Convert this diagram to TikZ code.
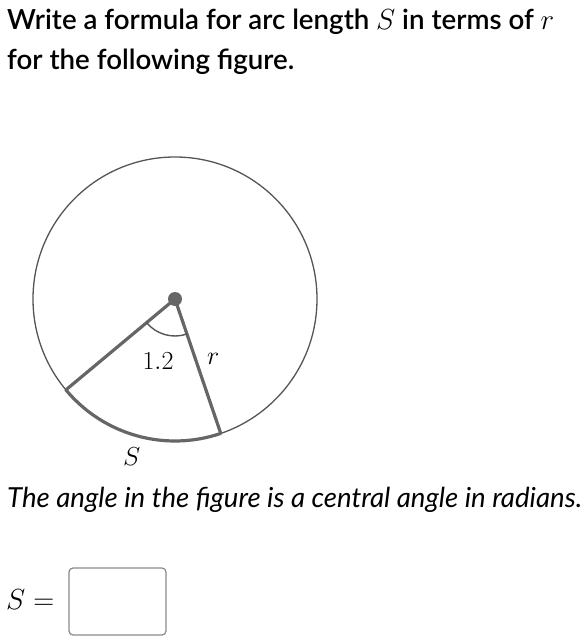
\RequirePackage{fix-cm}
\documentclass[tikz,border=0pt]{standalone}
\usepackage{fontspec}
\setmainfont{Lato}
\newfontfamily\latosemi{Lato Semibold}
\usetikzlibrary{calc}
\definecolor{circcol}{HTML}{555555}
\definecolor{radcol}{HTML}{666666}
\definecolor{boxcol}{HTML}{8A8A8A}
\tikzset{
  circline/.style={draw=circcol, line width=1.3pt},
  radline/.style={draw=radcol, line width=3.2pt},
  angline/.style={draw=circcol, line width=1.4pt},
  titletext/.style={anchor=base west, inner sep=0pt, font=\fontsize{27.7}{32}\selectfont\latosemi},
  itext/.style={anchor=base west, inner sep=0pt, font=\fontsize{27.6}{32}\selectfont\itshape},
  mlabel/.style={inner sep=0pt, font=\fontsize{26}{30}\selectfont},
  ansbox/.style={draw=boxcol, line width=1.2pt, rounded corners=4pt}
}
\newcommand{\titlemath}[1]{{\fontsize{29}{32}\selectfont$#1$}}
\begin{document}
\begin{tikzpicture}[x=1pt,y=1pt]
\useasboundingbox (0,0) rectangle (588,641);
% title
\node[titletext] (t1) at (7,611) {Write a formula for arc length \titlemath{S} in terms of \titlemath{r}};
\node[titletext] (t2) at (7,571) {for the following figure.};
% figure
\coordinate (O) at (175,342);
\draw[circline] (O) circle[radius=142];
\coordinate (A) at ($(O)+(219.8:142)$);
\coordinate (B) at ($(O)+(288.8:142)$);
\draw[radline] (A) arc[start angle=219.8, end angle=288.8, radius=142];
\draw[radline, line cap=round] (A) -- (O) -- (B);
\draw[angline] ($(O)+(219.8:37)$) arc[start angle=219.8, end angle=288.8, radius=37];
\fill[radcol] (O) circle[radius=7];
\node[mlabel] (ang) at (158,280.3) {$1.2$};
\node[mlabel] (rl) at (213.3,281.7) {$r$};
\node[mlabel] (sl) at (131.7,184.3) {$S$};
% instruction
\node[itext] (t3) at (7,133) {The angle in the figure is a central angle in radians.};
% answer
\node[anchor=base west, inner sep=0pt, font=\fontsize{29}{32}\selectfont] (seq) at (6,31) {$S=$};
\draw[ansbox] (69,6) rectangle (166,73);
\end{tikzpicture}
\end{document}
